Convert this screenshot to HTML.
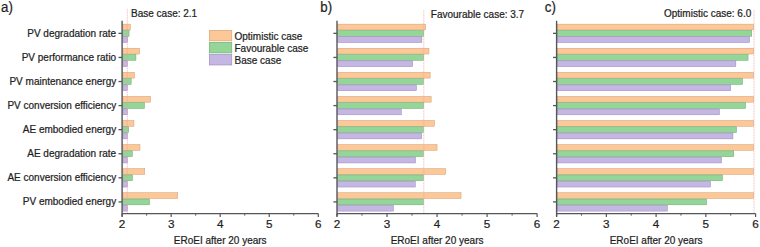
<!DOCTYPE html>
<html><head><meta charset="utf-8"><style>
html,body{margin:0;padding:0;background:#fff;}
body{width:760px;height:247px;overflow:hidden;}
svg{display:block;}
text{font-family:"Liberation Sans",sans-serif;font-size:10px;fill:#1e1e1e;stroke:#1e1e1e;stroke-width:0.22px;}
</style></head><body>
<svg width="760" height="247" viewBox="0 0 760 247">
<rect width="760" height="247" fill="#fff"/>
<rect x="122.85" y="24.15" width="7.50" height="5.80" fill="#FCC898" stroke="#D49C74" stroke-width="0.5"/>
<rect x="122.85" y="30.45" width="6.20" height="5.80" fill="#93D698" stroke="#6AA872" stroke-width="0.5"/>
<rect x="122.85" y="36.75" width="4.70" height="5.80" fill="#C6B6E4" stroke="#9688B8" stroke-width="0.5"/>
<rect x="122.85" y="48.23" width="16.80" height="5.80" fill="#FCC898" stroke="#D49C74" stroke-width="0.5"/>
<rect x="122.85" y="54.53" width="13.10" height="5.80" fill="#93D698" stroke="#6AA872" stroke-width="0.5"/>
<rect x="122.85" y="60.83" width="4.40" height="5.80" fill="#C6B6E4" stroke="#9688B8" stroke-width="0.5"/>
<rect x="122.85" y="72.31" width="11.70" height="5.80" fill="#FCC898" stroke="#D49C74" stroke-width="0.5"/>
<rect x="122.85" y="78.61" width="8.30" height="5.80" fill="#93D698" stroke="#6AA872" stroke-width="0.5"/>
<rect x="122.85" y="84.91" width="4.40" height="5.80" fill="#C6B6E4" stroke="#9688B8" stroke-width="0.5"/>
<rect x="122.85" y="96.39" width="27.70" height="5.80" fill="#FCC898" stroke="#D49C74" stroke-width="0.5"/>
<rect x="122.85" y="102.69" width="21.60" height="5.80" fill="#93D698" stroke="#6AA872" stroke-width="0.5"/>
<rect x="122.85" y="108.99" width="4.40" height="5.80" fill="#C6B6E4" stroke="#9688B8" stroke-width="0.5"/>
<rect x="122.85" y="120.47" width="11.10" height="5.80" fill="#FCC898" stroke="#D49C74" stroke-width="0.5"/>
<rect x="122.85" y="126.77" width="5.80" height="5.80" fill="#93D698" stroke="#6AA872" stroke-width="0.5"/>
<rect x="122.85" y="133.07" width="4.40" height="5.80" fill="#C6B6E4" stroke="#9688B8" stroke-width="0.5"/>
<rect x="122.85" y="144.55" width="17.10" height="5.80" fill="#FCC898" stroke="#D49C74" stroke-width="0.5"/>
<rect x="122.85" y="150.85" width="9.50" height="5.80" fill="#93D698" stroke="#6AA872" stroke-width="0.5"/>
<rect x="122.85" y="157.15" width="4.40" height="5.80" fill="#C6B6E4" stroke="#9688B8" stroke-width="0.5"/>
<rect x="122.85" y="168.63" width="21.90" height="5.80" fill="#FCC898" stroke="#D49C74" stroke-width="0.5"/>
<rect x="122.85" y="174.93" width="9.70" height="5.80" fill="#93D698" stroke="#6AA872" stroke-width="0.5"/>
<rect x="122.85" y="181.23" width="4.40" height="5.80" fill="#C6B6E4" stroke="#9688B8" stroke-width="0.5"/>
<rect x="122.85" y="192.71" width="54.90" height="5.80" fill="#FCC898" stroke="#D49C74" stroke-width="0.5"/>
<rect x="122.85" y="199.01" width="26.70" height="5.80" fill="#93D698" stroke="#6AA872" stroke-width="0.5"/>
<rect x="122.85" y="205.31" width="4.40" height="5.80" fill="#C6B6E4" stroke="#9688B8" stroke-width="0.5"/>
<line x1="127.3" y1="8.9" x2="127.3" y2="213" stroke="#EE9E98" stroke-width="0.9" stroke-opacity="0.7" stroke-dasharray="1,0.6"/>
<line x1="122.1" y1="20.8" x2="122.1" y2="216.5" stroke="#55555c" stroke-width="1.4"/>
<line x1="122.1" y1="213.6" x2="318.30" y2="213.6" stroke="#55555c" stroke-width="1.1"/>
<line x1="122.10" y1="213.6" x2="122.10" y2="217.1" stroke="#55555c" stroke-width="1.2"/>
<text x="122.10" y="227.8" text-anchor="middle" style="font-size:11.7px">2</text>
<line x1="171.15" y1="213.6" x2="171.15" y2="217.1" stroke="#55555c" stroke-width="1.2"/>
<text x="171.15" y="227.8" text-anchor="middle" style="font-size:11.7px">3</text>
<line x1="220.20" y1="213.6" x2="220.20" y2="217.1" stroke="#55555c" stroke-width="1.2"/>
<text x="220.20" y="227.8" text-anchor="middle" style="font-size:11.7px">4</text>
<line x1="269.25" y1="213.6" x2="269.25" y2="217.1" stroke="#55555c" stroke-width="1.2"/>
<text x="269.25" y="227.8" text-anchor="middle" style="font-size:11.7px">5</text>
<line x1="318.30" y1="213.6" x2="318.30" y2="217.1" stroke="#55555c" stroke-width="1.2"/>
<text x="318.30" y="227.8" text-anchor="middle" style="font-size:11.7px">6</text>
<line x1="146.62" y1="213.6" x2="146.62" y2="215.6" stroke="#55555c" stroke-width="1"/>
<line x1="195.67" y1="213.6" x2="195.67" y2="215.6" stroke="#55555c" stroke-width="1"/>
<line x1="244.72" y1="213.6" x2="244.72" y2="215.6" stroke="#55555c" stroke-width="1"/>
<line x1="293.77" y1="213.6" x2="293.77" y2="215.6" stroke="#55555c" stroke-width="1"/>
<line x1="118.50" y1="33.35" x2="122.1" y2="33.35" stroke="#55555c" stroke-width="1.3"/>
<line x1="118.50" y1="57.43" x2="122.1" y2="57.43" stroke="#55555c" stroke-width="1.3"/>
<line x1="118.50" y1="81.51" x2="122.1" y2="81.51" stroke="#55555c" stroke-width="1.3"/>
<line x1="118.50" y1="105.59" x2="122.1" y2="105.59" stroke="#55555c" stroke-width="1.3"/>
<line x1="118.50" y1="129.67" x2="122.1" y2="129.67" stroke="#55555c" stroke-width="1.3"/>
<line x1="118.50" y1="153.75" x2="122.1" y2="153.75" stroke="#55555c" stroke-width="1.3"/>
<line x1="118.50" y1="177.83" x2="122.1" y2="177.83" stroke="#55555c" stroke-width="1.3"/>
<line x1="118.50" y1="201.91" x2="122.1" y2="201.91" stroke="#55555c" stroke-width="1.3"/>
<text x="220.20" y="243.7" text-anchor="middle">ERoEI after 20 years</text>
<text x="131.0" y="16.5">Base case: 2.1</text>
<text transform="translate(1.0,12.4) scale(0.93,1)" style="font-size:14.3px">a)</text>
<rect x="337.75" y="24.15" width="87.90" height="5.80" fill="#FCC898" stroke="#D49C74" stroke-width="0.5"/>
<rect x="337.75" y="30.45" width="85.80" height="5.80" fill="#93D698" stroke="#6AA872" stroke-width="0.5"/>
<rect x="337.75" y="36.75" width="84.10" height="5.80" fill="#C6B6E4" stroke="#9688B8" stroke-width="0.5"/>
<rect x="337.75" y="48.23" width="91.20" height="5.80" fill="#FCC898" stroke="#D49C74" stroke-width="0.5"/>
<rect x="337.75" y="54.53" width="85.70" height="5.80" fill="#93D698" stroke="#6AA872" stroke-width="0.5"/>
<rect x="337.75" y="60.83" width="74.90" height="5.80" fill="#C6B6E4" stroke="#9688B8" stroke-width="0.5"/>
<rect x="337.75" y="72.31" width="92.40" height="5.80" fill="#FCC898" stroke="#D49C74" stroke-width="0.5"/>
<rect x="337.75" y="78.61" width="85.50" height="5.80" fill="#93D698" stroke="#6AA872" stroke-width="0.5"/>
<rect x="337.75" y="84.91" width="78.70" height="5.80" fill="#C6B6E4" stroke="#9688B8" stroke-width="0.5"/>
<rect x="337.75" y="96.39" width="93.40" height="5.80" fill="#FCC898" stroke="#D49C74" stroke-width="0.5"/>
<rect x="337.75" y="102.69" width="85.70" height="5.80" fill="#93D698" stroke="#6AA872" stroke-width="0.5"/>
<rect x="337.75" y="108.99" width="63.50" height="5.80" fill="#C6B6E4" stroke="#9688B8" stroke-width="0.5"/>
<rect x="337.75" y="120.47" width="96.70" height="5.80" fill="#FCC898" stroke="#D49C74" stroke-width="0.5"/>
<rect x="337.75" y="126.77" width="85.50" height="5.80" fill="#93D698" stroke="#6AA872" stroke-width="0.5"/>
<rect x="337.75" y="133.07" width="83.90" height="5.80" fill="#C6B6E4" stroke="#9688B8" stroke-width="0.5"/>
<rect x="337.75" y="144.55" width="99.30" height="5.80" fill="#FCC898" stroke="#D49C74" stroke-width="0.5"/>
<rect x="337.75" y="150.85" width="85.50" height="5.80" fill="#93D698" stroke="#6AA872" stroke-width="0.5"/>
<rect x="337.75" y="157.15" width="77.80" height="5.80" fill="#C6B6E4" stroke="#9688B8" stroke-width="0.5"/>
<rect x="337.75" y="168.63" width="107.90" height="5.80" fill="#FCC898" stroke="#D49C74" stroke-width="0.5"/>
<rect x="337.75" y="174.93" width="85.60" height="5.80" fill="#93D698" stroke="#6AA872" stroke-width="0.5"/>
<rect x="337.75" y="181.23" width="77.50" height="5.80" fill="#C6B6E4" stroke="#9688B8" stroke-width="0.5"/>
<rect x="337.75" y="192.71" width="123.30" height="5.80" fill="#FCC898" stroke="#D49C74" stroke-width="0.5"/>
<rect x="337.75" y="199.01" width="85.60" height="5.80" fill="#93D698" stroke="#6AA872" stroke-width="0.5"/>
<rect x="337.75" y="205.31" width="55.70" height="5.80" fill="#C6B6E4" stroke="#9688B8" stroke-width="0.5"/>
<line x1="423.8" y1="10.2" x2="423.8" y2="213" stroke="#EE9E98" stroke-width="0.9" stroke-opacity="0.7" stroke-dasharray="1,0.6"/>
<line x1="337.0" y1="20.8" x2="337.0" y2="216.5" stroke="#55555c" stroke-width="1.4"/>
<line x1="337.0" y1="213.6" x2="537.12" y2="213.6" stroke="#55555c" stroke-width="1.1"/>
<line x1="337.00" y1="213.6" x2="337.00" y2="217.1" stroke="#55555c" stroke-width="1.2"/>
<text x="337.00" y="227.8" text-anchor="middle" style="font-size:11.7px">2</text>
<line x1="387.03" y1="213.6" x2="387.03" y2="217.1" stroke="#55555c" stroke-width="1.2"/>
<text x="387.03" y="227.8" text-anchor="middle" style="font-size:11.7px">3</text>
<line x1="437.06" y1="213.6" x2="437.06" y2="217.1" stroke="#55555c" stroke-width="1.2"/>
<text x="437.06" y="227.8" text-anchor="middle" style="font-size:11.7px">4</text>
<line x1="487.09" y1="213.6" x2="487.09" y2="217.1" stroke="#55555c" stroke-width="1.2"/>
<text x="487.09" y="227.8" text-anchor="middle" style="font-size:11.7px">5</text>
<line x1="537.12" y1="213.6" x2="537.12" y2="217.1" stroke="#55555c" stroke-width="1.2"/>
<text x="537.12" y="227.8" text-anchor="middle" style="font-size:11.7px">6</text>
<line x1="362.01" y1="213.6" x2="362.01" y2="215.6" stroke="#55555c" stroke-width="1"/>
<line x1="412.05" y1="213.6" x2="412.05" y2="215.6" stroke="#55555c" stroke-width="1"/>
<line x1="462.07" y1="213.6" x2="462.07" y2="215.6" stroke="#55555c" stroke-width="1"/>
<line x1="512.11" y1="213.6" x2="512.11" y2="215.6" stroke="#55555c" stroke-width="1"/>
<line x1="333.40" y1="33.35" x2="337.0" y2="33.35" stroke="#55555c" stroke-width="1.3"/>
<line x1="333.40" y1="57.43" x2="337.0" y2="57.43" stroke="#55555c" stroke-width="1.3"/>
<line x1="333.40" y1="81.51" x2="337.0" y2="81.51" stroke="#55555c" stroke-width="1.3"/>
<line x1="333.40" y1="105.59" x2="337.0" y2="105.59" stroke="#55555c" stroke-width="1.3"/>
<line x1="333.40" y1="129.67" x2="337.0" y2="129.67" stroke="#55555c" stroke-width="1.3"/>
<line x1="333.40" y1="153.75" x2="337.0" y2="153.75" stroke="#55555c" stroke-width="1.3"/>
<line x1="333.40" y1="177.83" x2="337.0" y2="177.83" stroke="#55555c" stroke-width="1.3"/>
<line x1="333.40" y1="201.91" x2="337.0" y2="201.91" stroke="#55555c" stroke-width="1.3"/>
<text x="437.06" y="243.7" text-anchor="middle">ERoEI after 20 years</text>
<text x="430.8" y="18.3">Favourable case: 3.7</text>
<text transform="translate(320.3,12.4) scale(0.93,1)" style="font-size:14.3px">b)</text>
<rect x="557.35" y="24.15" width="196.20" height="5.80" fill="#FCC898" stroke="#D49C74" stroke-width="0.5"/>
<rect x="557.35" y="30.45" width="194.40" height="5.80" fill="#93D698" stroke="#6AA872" stroke-width="0.5"/>
<rect x="557.35" y="36.75" width="192.20" height="5.80" fill="#C6B6E4" stroke="#9688B8" stroke-width="0.5"/>
<rect x="557.35" y="48.23" width="196.20" height="5.80" fill="#FCC898" stroke="#D49C74" stroke-width="0.5"/>
<rect x="557.35" y="54.53" width="190.70" height="5.80" fill="#93D698" stroke="#6AA872" stroke-width="0.5"/>
<rect x="557.35" y="60.83" width="178.50" height="5.80" fill="#C6B6E4" stroke="#9688B8" stroke-width="0.5"/>
<rect x="557.35" y="72.31" width="196.20" height="5.80" fill="#FCC898" stroke="#D49C74" stroke-width="0.5"/>
<rect x="557.35" y="78.61" width="185.20" height="5.80" fill="#93D698" stroke="#6AA872" stroke-width="0.5"/>
<rect x="557.35" y="84.91" width="173.40" height="5.80" fill="#C6B6E4" stroke="#9688B8" stroke-width="0.5"/>
<rect x="557.35" y="96.39" width="196.20" height="5.80" fill="#FCC898" stroke="#D49C74" stroke-width="0.5"/>
<rect x="557.35" y="102.69" width="188.20" height="5.80" fill="#93D698" stroke="#6AA872" stroke-width="0.5"/>
<rect x="557.35" y="108.99" width="162.10" height="5.80" fill="#C6B6E4" stroke="#9688B8" stroke-width="0.5"/>
<rect x="557.35" y="120.47" width="196.20" height="5.80" fill="#FCC898" stroke="#D49C74" stroke-width="0.5"/>
<rect x="557.35" y="126.77" width="179.20" height="5.80" fill="#93D698" stroke="#6AA872" stroke-width="0.5"/>
<rect x="557.35" y="133.07" width="175.60" height="5.80" fill="#C6B6E4" stroke="#9688B8" stroke-width="0.5"/>
<rect x="557.35" y="144.55" width="196.20" height="5.80" fill="#FCC898" stroke="#D49C74" stroke-width="0.5"/>
<rect x="557.35" y="150.85" width="176.40" height="5.80" fill="#93D698" stroke="#6AA872" stroke-width="0.5"/>
<rect x="557.35" y="157.15" width="164.30" height="5.80" fill="#C6B6E4" stroke="#9688B8" stroke-width="0.5"/>
<rect x="557.35" y="168.63" width="196.20" height="5.80" fill="#FCC898" stroke="#D49C74" stroke-width="0.5"/>
<rect x="557.35" y="174.93" width="165.20" height="5.80" fill="#93D698" stroke="#6AA872" stroke-width="0.5"/>
<rect x="557.35" y="181.23" width="153.10" height="5.80" fill="#C6B6E4" stroke="#9688B8" stroke-width="0.5"/>
<rect x="557.35" y="192.71" width="196.20" height="5.80" fill="#FCC898" stroke="#D49C74" stroke-width="0.5"/>
<rect x="557.35" y="199.01" width="149.20" height="5.80" fill="#93D698" stroke="#6AA872" stroke-width="0.5"/>
<rect x="557.35" y="205.31" width="110.00" height="5.80" fill="#C6B6E4" stroke="#9688B8" stroke-width="0.5"/>
<line x1="754.0" y1="10.2" x2="754.0" y2="213" stroke="#EE9E98" stroke-width="0.9" stroke-opacity="0.7" stroke-dasharray="1,0.6"/>
<line x1="556.6" y1="20.8" x2="556.6" y2="216.5" stroke="#55555c" stroke-width="1.4"/>
<line x1="556.6" y1="213.6" x2="755.60" y2="213.6" stroke="#55555c" stroke-width="1.1"/>
<line x1="556.60" y1="213.6" x2="556.60" y2="217.1" stroke="#55555c" stroke-width="1.2"/>
<text x="556.60" y="227.8" text-anchor="middle" style="font-size:11.7px">2</text>
<line x1="606.35" y1="213.6" x2="606.35" y2="217.1" stroke="#55555c" stroke-width="1.2"/>
<text x="606.35" y="227.8" text-anchor="middle" style="font-size:11.7px">3</text>
<line x1="656.10" y1="213.6" x2="656.10" y2="217.1" stroke="#55555c" stroke-width="1.2"/>
<text x="656.10" y="227.8" text-anchor="middle" style="font-size:11.7px">4</text>
<line x1="705.85" y1="213.6" x2="705.85" y2="217.1" stroke="#55555c" stroke-width="1.2"/>
<text x="705.85" y="227.8" text-anchor="middle" style="font-size:11.7px">5</text>
<line x1="755.60" y1="213.6" x2="755.60" y2="217.1" stroke="#55555c" stroke-width="1.2"/>
<text x="755.60" y="227.8" text-anchor="middle" style="font-size:11.7px">6</text>
<line x1="581.48" y1="213.6" x2="581.48" y2="215.6" stroke="#55555c" stroke-width="1"/>
<line x1="631.23" y1="213.6" x2="631.23" y2="215.6" stroke="#55555c" stroke-width="1"/>
<line x1="680.98" y1="213.6" x2="680.98" y2="215.6" stroke="#55555c" stroke-width="1"/>
<line x1="730.73" y1="213.6" x2="730.73" y2="215.6" stroke="#55555c" stroke-width="1"/>
<line x1="553.00" y1="33.35" x2="556.6" y2="33.35" stroke="#55555c" stroke-width="1.3"/>
<line x1="553.00" y1="57.43" x2="556.6" y2="57.43" stroke="#55555c" stroke-width="1.3"/>
<line x1="553.00" y1="81.51" x2="556.6" y2="81.51" stroke="#55555c" stroke-width="1.3"/>
<line x1="553.00" y1="105.59" x2="556.6" y2="105.59" stroke="#55555c" stroke-width="1.3"/>
<line x1="553.00" y1="129.67" x2="556.6" y2="129.67" stroke="#55555c" stroke-width="1.3"/>
<line x1="553.00" y1="153.75" x2="556.6" y2="153.75" stroke="#55555c" stroke-width="1.3"/>
<line x1="553.00" y1="177.83" x2="556.6" y2="177.83" stroke="#55555c" stroke-width="1.3"/>
<line x1="553.00" y1="201.91" x2="556.6" y2="201.91" stroke="#55555c" stroke-width="1.3"/>
<text x="656.10" y="243.7" text-anchor="middle">ERoEI after 20 years</text>
<text x="664.0" y="16.5">Optimistic case: 6.0</text>
<text transform="translate(544.8,12.4) scale(0.93,1)" style="font-size:14.3px">c)</text>
<text x="116.2" y="36.75" text-anchor="end">PV degradation rate</text>
<text x="116.2" y="60.83" text-anchor="end">PV performance ratio</text>
<text x="116.2" y="84.91" text-anchor="end">PV maintenance energy</text>
<text x="116.2" y="108.99" text-anchor="end">PV conversion efficiency</text>
<text x="116.2" y="133.07" text-anchor="end">AE embodied energy</text>
<text x="116.2" y="157.15" text-anchor="end">AE degradation rate</text>
<text x="116.2" y="181.23" text-anchor="end">AE conversion efficiency</text>
<text x="116.2" y="205.31" text-anchor="end">PV embodied energy</text>
<rect x="209.3" y="30.30" width="22.5" height="10.6" fill="#FCC898" stroke="#D49C74" stroke-width="0.6"/>
<text x="234.5" y="39.50">Optimistic case</text>
<rect x="209.3" y="42.35" width="22.5" height="10.6" fill="#93D698" stroke="#6AA872" stroke-width="0.6"/>
<text x="234.5" y="51.55">Favourable case</text>
<rect x="209.3" y="54.40" width="22.5" height="10.6" fill="#C6B6E4" stroke="#9688B8" stroke-width="0.6"/>
<text x="234.5" y="63.60">Base case</text>
</svg>
</body></html>
